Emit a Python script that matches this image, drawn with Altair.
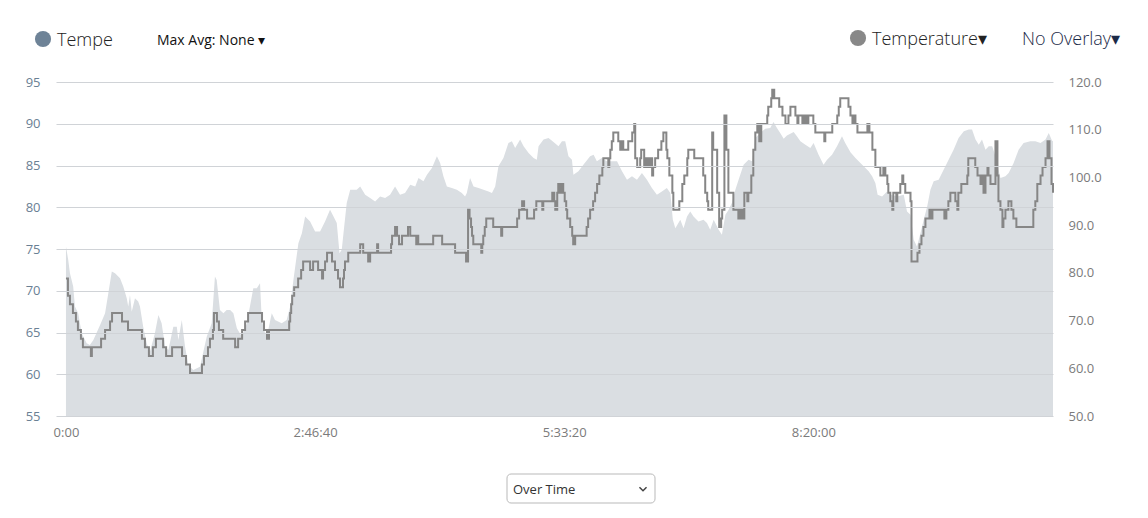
import altair as alt
import pandas as pd

# ---- data ----
# light area series ("Tempe"), left axis units, time in seconds
area_time = [0, 90, 160, 290, 360, 490, 630, 830, 960, 1100, 1370, 1570, 1700, 1840, 1970, 2170, 2300, 2440, 2500, 2570,
             2640, 2770, 2900, 2970, 3100, 3240, 3370, 3570, 3710, 3840, 3980, 4110, 4310, 4450, 4510, 4650, 4780, 4910, 5110, 5380,
             5650, 5850, 5980, 6050, 6180, 6320, 6450, 6590, 6720, 6860, 7060, 7260, 7520, 7660, 7790, 7860, 7990, 8120, 8260, 8390,
             8660, 8860, 9000, 9130, 9330, 9470, 9600, 9730, 9800, 10000, 10200, 10400, 10600, 10740, 10870, 10980, 11070, 11140, 11270, 11410,
             11670, 11810, 12010, 12210, 12410, 12610, 12810, 13010, 13210, 13410, 13610, 13820, 14020, 14150, 14350, 14490, 14690, 14890, 15020, 15150,
             15290, 15490, 15690, 15890, 16020, 16090, 16220, 16360, 16560, 16760, 16960, 17100, 17230, 17360, 17560, 17760, 17900, 18030, 18230, 18370,
             18570, 18770, 18900, 18970, 19170, 19370, 19570, 19770, 19910, 20040, 20170, 20310, 20370, 20570, 20770, 21040, 21180, 21310, 21510, 21710,
             21920, 22120, 22320, 22520, 22720, 22920, 23120, 23320, 23520, 23720, 23920, 24120, 24260, 24360, 24460, 24660, 24790, 24930, 25060, 25190,
             25390, 25590, 25730, 25860, 26000, 26200, 26330, 26470, 26600, 26730, 26870, 27000, 27200, 27400, 27540, 27670, 27870, 28070, 28270, 28400,
             28540, 28670, 28810, 28940, 29210, 29340, 29480, 29680, 29880, 30010, 30210, 30410, 30550, 30750, 30950, 31150, 31280, 31490, 31690, 31890,
             32090, 32220, 32360, 32490, 32580, 32760, 32960, 33090, 33360, 33630, 33760, 33900, 34030, 34160, 34300, 34430, 34570, 34700, 34830, 35030,
             35230, 35430, 35630, 35830, 36040, 36240, 36370, 36510, 36640, 36770, 36910, 37040, 37180, 37310, 37510, 37710, 37840, 38040, 38240, 38440,
             38710, 38910, 39120, 39320, 39450, 39590, 39620]
area_tempe = [75.3, 73.7, 72.1, 70.5, 68.1, 67.3, 64.9, 63.7, 63.5, 64.1, 65.9, 67.3, 69.7, 72.3, 72.1, 71.5, 70.5, 69.1, 68.1, 69.5,
              67.5, 69.1, 68.7, 68.1, 65.7, 63.7, 62.7, 64.9, 67.1, 66.1, 63.3, 62.9, 65.7, 65.7, 64.1, 66.5, 63.3, 61.1, 60.5, 60.9,
              64.5, 66.1, 71.7, 71.3, 67.7, 67.3, 67.7, 67.7, 67.3, 65.5, 64.5, 66.1, 70.3, 70.3, 70.9, 66.5, 64.9, 65.3, 67.3, 66.5,
              66.1, 66.5, 68.1, 71.3, 75.7, 76.9, 78.9, 78.5, 78.3, 77.1, 77.1, 78.3, 79.7, 78.9, 78.1, 74.5, 74.9, 76.9, 80.5, 82.1,
              82.1, 82.5, 81.5, 81.1, 80.7, 81.3, 81.1, 81.5, 82.5, 81.5, 81.7, 82.7, 82.5, 83.5, 83.1, 83.9, 84.7, 86.1, 85.3, 83.7,
              82.5, 82.3, 82.1, 81.7, 81.3, 81.7, 83.5, 82.5, 82.3, 82.1, 81.9, 81.7, 82.5, 84.9, 85.9, 87.7, 87.9, 87.1, 88.1, 87.3,
              86.5, 85.9, 85.7, 87.3, 88.1, 88.3, 87.8, 87.3, 87.9, 87.9, 86.1, 85.7, 83.9, 84.3, 85.1, 86.1, 86.3, 85.5, 85.9, 85.5,
              85.5, 85.5, 84.3, 83.3, 83.7, 83.3, 84.1, 83.3, 82.3, 81.5, 81.9, 82.3, 81.7, 78.5, 77.5, 78.5, 77.5, 78.9, 79.5, 78.9,
              78.3, 78.5, 78.1, 77.3, 78.5, 77.3, 76.7, 79.1, 79.7, 80.5, 82.1, 83.3, 85.1, 85.7, 85.5, 88.3, 88.9, 89.4, 89.5, 90.2,
              89.5, 88.9, 88.2, 88.6, 89.0, 88.5, 87.9, 87.5, 87.1, 87.7, 86.3, 85.1, 85.7, 86.3, 87.3, 88.5, 87.7, 86.6, 85.9, 85.3,
              84.7, 84.3, 83.7, 82.9, 81.5, 81.3, 81.9, 81.5, 81.3, 81.5, 79.5, 79.1, 76.1, 75.3, 76.9, 78.5, 80.1, 82.1, 83.1, 83.3,
              84.5, 85.7, 86.9, 88.3, 89.1, 89.3, 89.3, 88.1, 87.5, 88.1, 86.9, 87.3, 87.3, 86.1, 83.5, 83.7, 84.1, 85.3, 86.9, 87.7,
              87.9, 87.9, 87.7, 88.1, 88.9, 87.9, 88.0]

# dark stepped line ("Temperature", deg F, right axis), time in seconds
line_time = [0, 80, 160, 280, 400, 480, 600, 680, 1000, 1040, 1410, 1570, 1770, 1850, 2250, 2490, 3050, 3170, 3330, 3490,
             3610, 3900, 4020, 4260, 4660, 4820, 4980, 5460, 5540, 5700, 5780, 5900, 5940, 6060, 6140, 6310, 6790, 6910, 7070, 7190,
             7310, 7870, 7950, 8070, 8150, 8960, 9000, 9040, 9080, 9160, 9320, 9440, 9520, 9800, 9920, 10120, 10280, 10320, 10400, 10480,
             10680, 10800, 10920, 11000, 11120, 11160, 11200, 11330, 11810, 11930, 12130, 12210, 12490, 12530, 13050, 13090, 13210, 13290, 13370, 13490,
             13730, 13820, 14060, 14100, 14140, 14740, 15100, 15620, 16060, 16140, 16200, 16260, 16300, 16350, 16670, 16710, 16750, 16810, 16870, 17150,
             17470, 17510, 18110, 18190, 18310, 18390, 18510, 18790, 18880, 19120, 19160, 19520, 19600, 19640, 19720, 19760, 19840, 19920, 19960, 20020,
             20080, 20120, 20240, 20320, 20360, 20440, 20900, 20960, 21040, 21160, 21240, 21320, 21410, 21530, 21570, 21770, 21810, 21850, 21910, 21970,
             22170, 22250, 22330, 22370, 22570, 22730, 22810, 22850, 22930, 23050, 23090, 23210, 23290, 23370, 23450, 23530, 23570, 23650, 23770, 23900,
             23980, 24100, 24140, 24220, 24340, 24380, 24620, 24740, 24820, 24940, 24980, 25220, 25580, 25660, 25740, 25780, 25940, 25980, 26140, 26220,
             26300, 26340, 26430, 26510, 26590, 26790, 26990, 27070, 27150, 27230, 27350, 27390, 27510, 27590, 27670, 27750, 27830, 27910, 28150, 28190,
             28310, 28350, 28430, 28630, 28760, 28880, 29000, 29080, 29280, 29360, 29400, 29560, 29640, 29720, 29800, 30000, 30080, 30440, 30480, 30760,
             30960, 31020, 31080, 31410, 31490, 31570, 31650, 31690, 31770, 32170, 32250, 32370, 32490, 32690, 32810, 32890, 32970, 33010, 33090, 33170,
             33210, 33330, 33370, 33490, 33570, 33610, 33690, 33900, 33940, 34180, 34260, 34340, 34420, 34500, 34660, 34700, 34780, 35260, 35340, 35420,
             35500, 35700, 35780, 35820, 35940, 36180, 36220, 36500, 36590, 36710, 36790, 36830, 36910, 36990, 37030, 37110, 37310, 37390, 37430, 37510,
             37590, 37630, 37710, 37830, 37950, 38030, 38150, 38830, 38910, 38990, 39120, 39200, 39320, 39400, 39480, 39560, 39620]
line_temp_f = [78.8, 75.2, 73.4, 71.6, 69.8, 68.0, 66.2, 64.4, 62.6, 64.4, 66.2, 68.0, 69.8, 71.6, 69.8, 68.0, 66.2, 64.4, 62.6, 64.4,
               66.2, 64.4, 62.6, 64.4, 62.6, 60.8, 59.0, 60.8, 62.6, 64.4, 66.2, 68.0, 71.6, 69.8, 68.0, 66.2, 64.4, 66.2, 68.0, 69.8,
               71.6, 69.8, 68.0, 66.2, 68.0, 69.8, 71.6, 73.4, 75.2, 77.0, 78.8, 80.6, 82.4, 80.6, 82.4, 80.6, 78.8, 80.6, 82.4, 84.2,
               82.4, 80.6, 78.8, 77.0, 78.8, 80.6, 82.4, 84.2, 86.0, 84.2, 82.4, 84.2, 86.0, 84.2, 86.0, 87.8, 89.6, 87.8, 86.0, 87.8,
               89.6, 87.8, 86.0, 87.8, 86.0, 87.8, 86.0, 84.2, 82.4, 93.2, 91.4, 89.6, 87.8, 86.0, 84.2, 86.0, 87.8, 89.6, 91.4, 89.6,
               87.8, 89.6, 91.4, 93.2, 95.0, 93.2, 91.4, 93.2, 95.0, 93.2, 95.0, 96.8, 95.0, 93.2, 96.8, 98.6, 96.8, 98.6, 96.8, 95.0,
               93.2, 91.4, 89.6, 87.8, 86.0, 87.8, 89.6, 91.4, 93.2, 95.0, 96.8, 98.6, 100.4, 102.2, 104.0, 102.2, 104.0, 105.8, 107.6, 109.4,
               107.6, 105.8, 107.6, 105.8, 107.6, 109.4, 111.2, 104.0, 102.2, 104.0, 105.8, 102.2, 104.0, 102.2, 104.0, 100.4, 102.2, 104.0, 105.8, 107.6,
               109.4, 105.8, 104.0, 100.4, 96.8, 93.2, 95.0, 98.6, 100.4, 104.0, 105.8, 104.0, 100.4, 96.8, 95.0, 93.2, 109.4, 105.8, 96.8, 89.6,
               91.4, 93.2, 113.0, 105.8, 96.8, 93.2, 91.4, 93.2, 91.4, 96.8, 95.0, 96.8, 100.4, 105.8, 109.4, 111.2, 107.6, 111.2, 113.0, 114.8,
               116.6, 118.4, 116.6, 114.8, 113.0, 111.2, 113.0, 114.8, 113.0, 111.2, 113.0, 111.2, 113.0, 111.2, 113.0, 111.2, 109.4, 107.6, 109.4, 111.2,
               113.0, 114.8, 116.6, 114.8, 113.0, 111.2, 113.0, 111.2, 109.4, 111.2, 109.4, 105.8, 102.2, 100.4, 102.2, 100.4, 98.6, 96.8, 95.0, 93.2,
               96.8, 95.0, 96.8, 98.6, 100.4, 98.6, 96.8, 95.0, 82.4, 84.2, 86.0, 87.8, 89.6, 91.4, 93.2, 91.4, 93.2, 91.4, 93.2, 95.0,
               96.8, 95.0, 93.2, 96.8, 98.6, 100.4, 104.0, 102.2, 100.4, 98.6, 100.4, 96.8, 100.4, 102.2, 100.4, 98.6, 107.6, 100.4, 95.0, 93.2,
               89.6, 91.4, 93.2, 95.0, 93.2, 91.4, 89.6, 93.2, 95.0, 98.6, 100.4, 102.2, 104.0, 107.6, 104.0, 98.6, 96.8]

left_ticks = [55, 60, 65, 70, 75, 80, 85, 90, 95]
right_ticks = [50, 60, 70, 80, 90, 100, 110, 120]
x_ticks = [0, 10000, 20000, 30000]

left_title = "Tempe"
maxavg_label = "Max Avg: None \u25BE"
right_title = "Temperature\u25BE"
overlay_label = "No Overlay\u25BE"
dropdown_label = "Over Time"

FONT = "Open Sans"

area_df = pd.DataFrame({"t": area_time, "v": area_tempe})
line_df = pd.DataFrame({"t": line_time, "v": line_temp_f})
one = pd.DataFrame({"k": [0]})

x_scale = alt.Scale(domain=[-400, 39620], nice=False, zero=False)
x_axis = alt.Axis(
    values=x_ticks, title=None, grid=False, domain=False, ticks=False, tickSize=0,
    labelPadding=10, labelFont=FONT, labelFontSize=13, labelColor="#7b7b7b",
    labelExpr="datum.value == 0 ? '0:00' : floor(datum.value / 3600) + ':' + "
              "pad(toString(floor((datum.value % 3600) / 60)), 2, '0', 'left') + ':' + "
              "pad(toString(datum.value % 60), 2, '0', 'left')",
)
x_enc = alt.X("t:Q", scale=x_scale, axis=x_axis)

area = alt.Chart(area_df).mark_area(color="#dadee2", interpolate="linear").encode(
    x=x_enc,
    y=alt.Y("v:Q", scale=alt.Scale(domain=[55, 95], nice=False, zero=False),
            axis=alt.Axis(values=left_ticks, title=None, grid=True, gridColor="#d0d3d7",
                          gridWidth=1, domain=False, ticks=False, tickSize=0, labelPadding=16,
                          labelFont=FONT, labelFontSize=13, labelColor="#6a8094", zindex=1)),
    y2=alt.datum(55),
)

line = alt.Chart(line_df).mark_line(color="#868686", strokeWidth=2, interpolate="step-after").encode(
    x=x_enc,
    y=alt.Y("v:Q", scale=alt.Scale(domain=[50, 120], nice=False, zero=False),
            axis=alt.Axis(orient="right", values=right_ticks, format=".1f", title=None, grid=False,
                          domain=False, ticks=False, tickSize=0, labelPadding=15,
                          labelFont=FONT, labelFontSize=13, labelColor="#7b7b7b")),
)

def label(text, x, y, size, color, weight="normal"):
    return alt.Chart(one).mark_text(text=text, align="left", baseline="alphabetic", font=FONT,
                                    fontSize=size, fontWeight=weight, color=color).encode(
        x=alt.value(x), y=alt.value(y))

def dot(x, y, color):
    return alt.Chart(one).mark_point(filled=True, shape="circle", size=260, color=color, opacity=1).encode(
        x=alt.value(x), y=alt.value(y))

header = [
    dot(-13, -43, "#6e8397"),
    label(left_title, 1, -36, 18, "#222222", 300),
    label(maxavg_label, 101, -37, 14, "#111111"),
    dot(802, -44, "#888888"),
    label(right_title, 816, -37, 18, "#222222", 300),
    label(overlay_label, 966, -37, 18, "#1b2a48", 300),
]

box = alt.Chart(one).mark_rect(fill="white", stroke="#b9b9b9", strokeWidth=1, cornerRadius=4).encode(
    x=alt.value(451), x2=alt.value(599), y=alt.value(392), y2=alt.value(421))
box_text = label(dropdown_label, 457, 412, 13, "#333333")
chevron = alt.Chart(one).mark_point(shape="M -1 -0.5 L 0 0.5 L 1 -0.5", filled=False, size=50,
                                    color="#444444", strokeWidth=1.5, opacity=1).encode(
    x=alt.value(587), y=alt.value(407))

chart = alt.layer(area, line, *header, box, box_text, chevron).resolve_scale(
    y="independent"
).properties(
    width=997, height=334,
    autosize=alt.AutoSizeParams(type="none"),
    padding={"left": 48, "top": 74, "right": 80, "bottom": 90},
    background="white",
).configure_view(stroke=None)

chart.save("out.html", embed_options={"renderer": "svg", "actions": False})
